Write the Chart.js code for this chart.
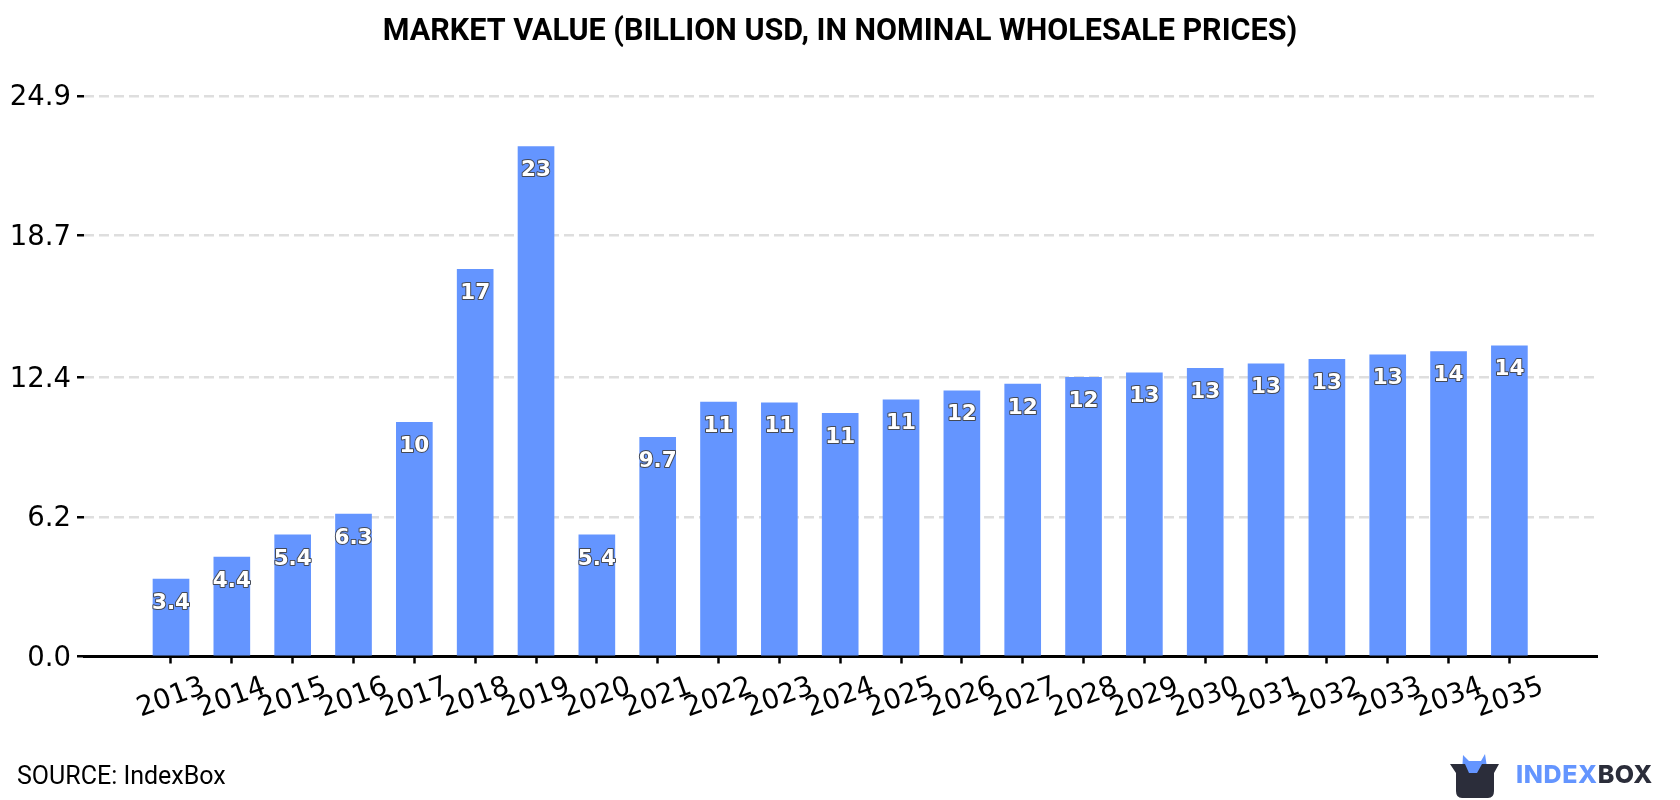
<!DOCTYPE html>
<html>
<head>
<meta charset="utf-8">
<title>Market value</title>
<script src="https://cdn.jsdelivr.net/npm/chart.js"></script>
<style>
  html, body { margin: 0; background: #fff; }
  #wrap { position: relative; width: 1680px; height: 800px; overflow: hidden; }
  #source { position: absolute; left: 17px; top: 761px; font: 400 25px Roboto, sans-serif; color: #000; }
  #logo { position: absolute; left: 1450px; top: 752px; }
  #brand { position: absolute; left: 1516px; top: 759px; font: 800 25px Inter, Roboto, sans-serif; letter-spacing: 0.6px; color: #6495ff; }
  #brand span { color: #2b2d3a; }
</style>
</head>
<body>
<div id="wrap">
  <canvas id="marketChart" width="1680" height="800"></canvas>
  <div id="source">SOURCE: IndexBox</div>
  <svg id="logo" width="50" height="48" viewBox="0 0 50 48">
    <path d="M12 22 L13 3 L19 9 L31 9 L35 2 L38 22 Z" fill="#6495ff"/>
    <path d="M0 12 L15 12 L19 21 L27 21 L32 12 L49 12 L44 21 L44 39 Q44 46 38 46 L12 46 Q6 46 6 39 L6 21 Z" fill="#2b2d3a"/>
  </svg>
  <div id="brand">INDEX<span>BOX</span></div>
</div>
<script>
const years = [2013, 2014, 2015, 2016, 2017, 2018, 2019, 2020, 2021, 2022, 2023, 2024, 2025, 2026, 2027, 2028, 2029, 2030, 2031, 2032, 2033, 2034, 2035];
const marketValue = [3.44, 4.42, 5.4, 6.33, 10.4, 17.2, 22.65, 5.4, 9.74, 11.3, 11.27, 10.8, 11.4, 11.8, 12.1, 12.4, 12.6, 12.8, 13.0, 13.2, 13.4, 13.55, 13.8];
const valueTicks = [0, 6.2, 12.4, 18.7, 24.9];
const chartTitle = "MARKET VALUE (BILLION USD, IN NOMINAL WHOLESALE PRICES)";

// title centred on the whole canvas, not on the plot box
const pageTitle = {
  id: "pageTitle",
  afterDraw(chart) {
    const ctx = chart.ctx;
    ctx.save();
    ctx.font = "bold 30.5px Roboto";
    ctx.fillStyle = "#000";
    ctx.textAlign = "center";
    ctx.textBaseline = "middle";
    ctx.fillText(chartTitle, chart.width / 2, 32);
    ctx.restore();
  },
};

// bar labels: white bold text with a thin dark outline
const barLabels = {
  id: "barLabels",
  afterDatasetsDraw(chart) {
    const ctx = chart.ctx;
    ctx.save();
    ctx.font = "bold 21.5px 'DejaVu Sans'";
    ctx.textAlign = "center";
    ctx.textBaseline = "middle";
    ctx.lineJoin = "round";
    chart.getDatasetMeta(0).data.forEach((bar, i) => {
      const text = Number(marketValue[i].toPrecision(2)).toString();
      ctx.lineWidth = 2;
      ctx.strokeStyle = "#444955";
      ctx.strokeText(text, bar.x, bar.y + 24);
      ctx.fillStyle = "#fff";
      ctx.fillText(text, bar.x, bar.y + 24);
    });
    ctx.restore();
  },
};

new Chart(document.getElementById("marketChart"), {
  type: "bar",
  data: {
    datasets: [
      {
        data: years.map((year, i) => ({ x: year, y: marketValue[i] })),
        backgroundColor: "#6495ff",
        barThickness: 36,
      },
    ],
  },
  plugins: [barLabels, pageTitle],
  options: {
    responsive: false,
    animation: false,
    layout: { padding: { left: 0, right: 83, top: 96, bottom: 0 } },
    plugins: {
      legend: { display: false },
      tooltip: { enabled: false },
      title: { display: false },
    },
    scales: {
      x: {
        type: "linear",
        offset: false,
        min: 2011.57,
        max: 2036.44,
        afterBuildTicks(scale) {
          scale.ticks = years.map((year) => ({ value: year }));
        },
        afterFit(scale) {
          scale.height = 143.5;
        },
        border: { display: true, color: "#000", width: 3 },
        grid: { offset: false, drawOnChartArea: false, tickLength: 7, tickColor: "#000", tickWidth: 2.5 },
        ticks: {
          autoSkip: false,
          minRotation: 20,
          maxRotation: 20,
          labelOffset: 33,
          padding: 7,
          color: "#000",
          font: { family: "DejaVu Sans", size: 27.5 },
          callback: (value) => String(value),
        },
      },
      y: {
        min: 0,
        max: 24.9,
        afterBuildTicks(scale) {
          scale.ticks = valueTicks.map((v) => ({ value: v }));
        },
        afterFit(scale) {
          scale.width = 84;
        },
        border: { display: false, dash: [10, 5] },
        grid: {
          color: (c) => (c.tick && c.tick.value === 0 ? "transparent" : "#dedede"),
          lineWidth: 2.5,
          tickLength: 7,
          tickColor: "#000",
          tickWidth: 2.5,
        },
        ticks: {
          padding: 6,
          labelOffset: 2,
          color: "#000",
          font: { family: "DejaVu Sans", size: 27.5 },
          callback: (value) => value.toFixed(1),
        },
      },
    },
  },
});
</script>
</body>
</html>
